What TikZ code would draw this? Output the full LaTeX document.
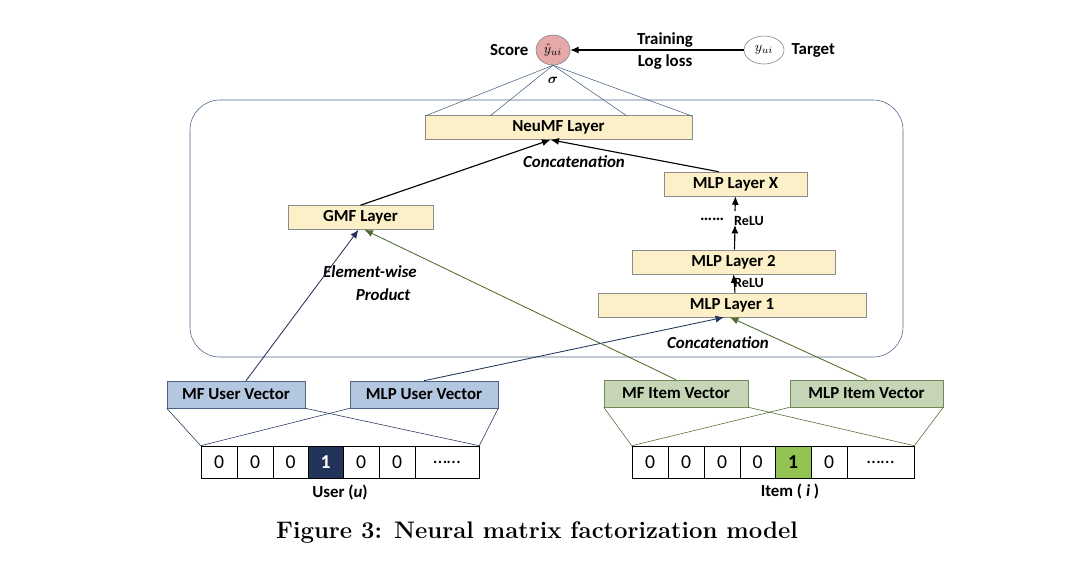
\documentclass[tikz,border=0pt]{standalone}
\usepackage{amsmath}
\usepackage{fontspec}
\newfontfamily\carlito{Carlito}
\usepackage{tikz}
\usetikzlibrary{arrows.meta,positioning,calc,shapes.geometric}
\definecolor{frameblue}{HTML}{4A6485}
\definecolor{layerfill}{HTML}{FBF0C8}
\definecolor{userfill}{HTML}{B4C7E0}
\definecolor{itemfill}{HTML}{C5D5B5}
\definecolor{userdark}{HTML}{22345A}
\definecolor{itemdark}{HTML}{4E6A2E}
\definecolor{scorefill}{HTML}{E6A9A9}
\definecolor{onegreen}{HTML}{92C353}
\tikzset{
  lbl/.style = {font=\carlito\bfseries\fontsize{12}{14}\selectfont, inner sep=1pt},
  layer/.style = {draw=black!45, fill=layerfill, lbl, minimum height=24*0.025cm},
  uvec/.style = {draw=frameblue, fill=userfill, lbl, minimum height=27*0.025cm},
  ivec/.style = {draw=itemdark!80, fill=itemfill, lbl, minimum height=27*0.025cm},
  cell/.style = {draw=black, minimum height=32*0.025cm, inner sep=0pt, font=\carlito\fontsize{14}{16}\selectfont},
  up/.style = {-{Latex[length=6pt,width=5pt]}, thick},
  wire/.style = {draw=frameblue, thin},
}

\begin{document}
\begin{tikzpicture}[x=0.025cm, y=-0.025cm]
\useasboundingbox (0,0) rectangle (1084,568);

% output and target
\node[ellipse, draw=black!50, fill=scorefill, minimum width=34*0.025cm, minimum height=30*0.025cm, inner sep=0pt] (score) at (553,50) {$\hat{y}_{ui}$};
\node[ellipse, draw=black!50, minimum width=40*0.025cm, minimum height=28*0.025cm, inner sep=0pt] (target) at (764,50) {$y_{ui}$};
\node[lbl, left=4pt of score] {Score};
\node[lbl, right=4pt of target] {Target};
\draw[up] (target) -- (score);
\node[lbl] at (665,40) {Training};
\node[lbl] at (665,62) {Log loss};
\node at (553,80) {$\boldsymbol{\sigma}$};

% model frame
\draw[frameblue, rounded corners=30*0.025cm] (190,100) rectangle (903,357);

% layers
\node[layer, minimum width=267*0.025cm] (neumf) at (558.5,127.5) {NeuMF Layer};
\node[layer, minimum width=145*0.025cm] (gmf) at (360.5,217.5) {GMF Layer};
\node[layer, minimum width=143*0.025cm] (mlpx) at (735.5,184) {MLP Layer X};
\node[layer, minimum width=203*0.025cm] (mlp2) at (733.5,262) {MLP Layer 2};
\node[layer, minimum width=268*0.025cm] (mlp1) at (732,305) {MLP Layer 1};
\coordinate (dots) at (735,225);
\node[lbl] at (712,219) {……};
\node[lbl, font=\carlito\bfseries\fontsize{10}{12}\selectfont] at (749,221) {ReLU};
\node[lbl, font=\carlito\bfseries\fontsize{10}{12}\selectfont] at (749,283) {ReLU};

% sigma fan
\foreach \xx in {425,490,627,692}
  \draw[wire] (\xx,116) -- (score.south);

\draw[up] (gmf.north) -- ($(neumf.south)+(-8,0)$);
\draw[up] (mlpx.north west)++(55,0) -- ($(neumf.south)+(-8,0)$);
\draw[up] (mlp1.north)++(3,0) -- (mlp2.south);
\draw[up] (mlp2.north)++(1,0) -- (dots);
\draw[up] ($(dots)+(0,-14)$) -- (mlpx.south);
\node[lbl, font=\carlito\bfseries\itshape\fontsize{12}{14}\selectfont] at (574,162) {Concatenation};
\node[lbl, font=\carlito\bfseries\itshape\fontsize{12}{14}\selectfont] at (718,343) {Concatenation};
\node[lbl, font=\carlito\bfseries\itshape\fontsize{12}{14}\selectfont] at (370,272) {Element-wise};
\node[lbl, font=\carlito\bfseries\itshape\fontsize{12}{14}\selectfont] at (383,295) {Product};

% embedding vectors
\node[uvec, minimum width=138*0.025cm] (mfu) at (236,394.5) {MF User Vector};
\node[uvec, minimum width=148*0.025cm] (mlpu) at (424,394.5) {MLP User Vector};
\node[ivec, minimum width=144*0.025cm] (mfi) at (676,393.5) {MF Item Vector};
\node[ivec, minimum width=153*0.025cm] (mlpi) at (866.5,393.5) {MLP Item Vector};

\draw[up, userdark, semithick] (mfu.north)++(10,0) -- ($(gmf.south)+(-2,0)$);
\draw[up, userdark, semithick] (mlpu.north) -- ($(mlp1.south)+(-8,0)$);
\draw[up, itemdark, semithick] (mfi.north) -- ($(gmf.south)+(4,0)$);
\draw[up, itemdark, semithick] (mlpi.north) -- ($(mlp1.south)+(-2,0)$);

% one-hot inputs
\foreach \n/\xa/\xb/\t in {1/201/237/0,2/237/273/0,3/273/308/0,4/308/343/1,5/343/379/0,6/379/415/0,7/415/479/……}
  \node[cell, minimum width=(\xb-\xa)*0.025cm] (u\n) at ({(\xa+\xb)/2},462) {\t};
\node[cell, fill=userdark, text=white, font=\carlito\bfseries\fontsize{14}{16}\selectfont, minimum width=35*0.025cm] at (u4) {1};
\foreach \n/\xa/\xb/\t in {1/632/668/0,2/668/704/0,3/704/740/0,4/740/775/0,5/775/811/1,6/811/847/0,7/847/914/……}
  \node[cell, minimum width=(\xb-\xa)*0.025cm] (i\n) at ({(\xa+\xb)/2},462) {\t};
\node[cell, fill=onegreen, font=\carlito\bfseries\fontsize{14}{16}\selectfont, minimum width=36*0.025cm] at (i5) {1};
\node[lbl] at (340,493) {User (\textit{u})};
\node[lbl] at (790,492) {Item ( \textit{i} )};

% lookup wires
\draw[userdark] (mfu.south west) -- (u1.north west);
\draw[userdark] (mfu.south east) -- (u7.north east);
\draw[userdark] (mlpu.south west) -- (u1.north west);
\draw[userdark] (mlpu.south east) -- (u7.north east);
\draw[itemdark] (mfi.south west) -- (i1.north west);
\draw[itemdark] (mfi.south east) -- (i7.north east);
\draw[itemdark] (mlpi.south west) -- (i1.north west);
\draw[itemdark] (mlpi.south east) -- (i7.north east);

% caption
\node[font=\fontsize{17}{20}\selectfont\bfseries] (cap) at (537,533) {Figure 3: Neural matrix factorization model};
\end{tikzpicture}
\end{document}
